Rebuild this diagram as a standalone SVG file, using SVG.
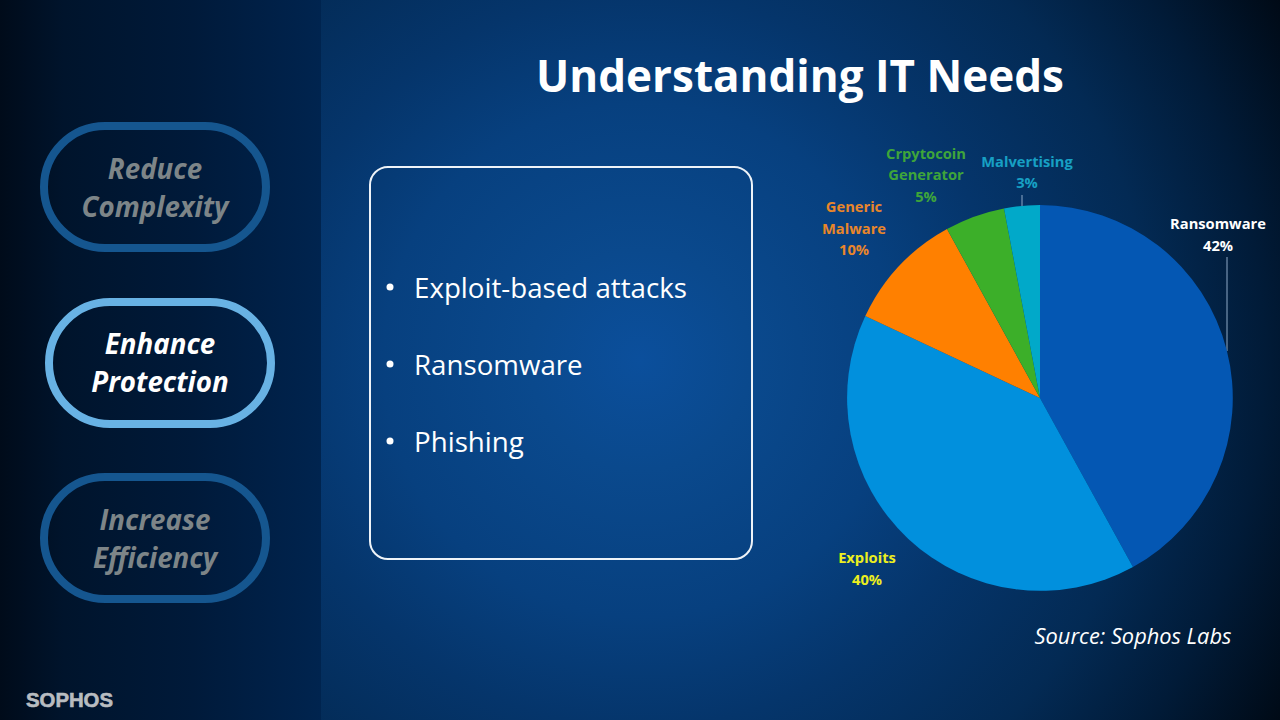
<svg xmlns="http://www.w3.org/2000/svg" width="1280" height="720" viewBox="0 0 1280 720">
<defs>
<radialGradient id="bg" gradientUnits="userSpaceOnUse" cx="640" cy="360" r="734">
<stop offset="0" stop-color="#0b4f9c"/>
<stop offset="0.15" stop-color="#0a498d"/>
<stop offset="0.35" stop-color="#07407f"/>
<stop offset="0.5" stop-color="#05356b"/>
<stop offset="0.7" stop-color="#032a54"/>
<stop offset="0.85" stop-color="#011b38"/>
<stop offset="1" stop-color="#000a16"/>
</radialGradient>
<linearGradient id="panel" x1="0" y1="0" x2="1" y2="0">
<stop offset="0" stop-color="#000b1a"/>
<stop offset="0.2" stop-color="#00142c"/>
<stop offset="0.6" stop-color="#001a3a"/>
<stop offset="1" stop-color="#00244f"/>
</linearGradient>
</defs>
<style>
text{font-family:"Open Sans","Noto Sans","Liberation Sans",sans-serif;text-anchor:middle}
.pill{fill:none;stroke-width:8}
.nav{font-size:27.7px;font-weight:700;font-style:italic}
.off{fill:#7d8588}
.dim{stroke:#15568f}
.bul{font-size:27.7px;fill:#fff;text-anchor:start}
.lab{font-size:14.7px;font-weight:700}
</style>
<rect width="1280" height="720" fill="url(#bg)"/>
<rect width="321" height="720" fill="url(#panel)"/>
<text x="800" y="92" font-size="45.500" font-weight="700" fill="#fff" textLength="528" lengthAdjust="spacingAndGlyphs">Understanding IT Needs</text>
<g id="node-reduce"><rect class="pill dim" x="44" y="126" width="222" height="122" rx="61"/>
<text class="nav off" x="155" y="179">Reduce</text><text class="nav off" x="155" y="217">Complexity</text></g>
<g id="node-enhance"><rect class="pill" stroke="#68b2e4" x="49" y="302" width="222" height="122" rx="61"/>
<text class="nav" fill="#fff" x="160" y="354">Enhance</text><text class="nav" fill="#fff" x="160" y="392">Protection</text></g>
<g id="node-increase"><rect class="pill dim" x="44" y="477" width="222" height="122" rx="61"/>
<text class="nav off" x="155" y="530">Increase</text><text class="nav off" x="155" y="568">Efficiency</text></g>
<g id="node-list"><rect x="370" y="167" width="382" height="392" rx="18" fill="none" stroke="#eef3f8" stroke-width="2"/>
<circle cx="390" cy="287" r="3.500" fill="#fff"/><text class="bul" x="414" y="298">Exploit-based attacks</text>
<circle cx="390" cy="364" r="3.500" fill="#fff"/><text class="bul" x="414" y="375">Ransomware</text>
<circle cx="390" cy="441" r="3.500" fill="#fff"/><text class="bul" x="414" y="452">Phishing</text></g>
<g id="connectors" stroke="#8ea9c6" stroke-width="1" fill="none"><path d="M1227 257V351"/><path d="M1022 195V206"/></g>
<g id="pie">
<path fill="#0457b3" d="M1040 398V205A193 193 0 0 1 1133 567Z"/>
<path fill="#0190dd" d="M1040 398L1133 567A193 193 0 0 1 865.300 316Z"/>
<path fill="#ff8000" d="M1040 398L865.300 316A193 193 0 0 1 947 229Z"/>
<path fill="#3caf29" d="M1040 398L947 229A193 193 0 0 1 1004 208.400Z"/>
<path fill="#01a9c9" d="M1040 398L1004 208.400A193 193 0 0 1 1040 205Z"/>
</g>
<g>
<text class="lab" fill="#fff" x="1218" y="229">Ransomware</text><text class="lab" fill="#fff" x="1218" y="251">42%</text>
<text class="lab" fill="#ecef1e" x="867" y="563">Exploits</text><text class="lab" fill="#ecef1e" x="867" y="585">40%</text>
<text class="lab" fill="#e9862a" x="854" y="212">Generic</text><text class="lab" fill="#e9862a" x="854" y="234">Malware</text><text class="lab" fill="#e9862a" x="854" y="255">10%</text>
<text class="lab" fill="#3fa53a" x="926" y="159">Crpytocoin</text><text class="lab" fill="#3fa53a" x="926" y="180">Generator</text><text class="lab" fill="#3fa53a" x="926" y="202">5%</text>
<text class="lab" fill="#17a0c4" x="1027" y="167">Malvertising</text><text class="lab" fill="#17a0c4" x="1027" y="188">3%</text>
</g>
<text x="1133" y="644" font-size="21.800" font-style="italic" fill="#fff">Source: Sophos Labs</text>
<text x="69.500" y="707" font-size="20" font-weight="700" fill="#b8bcc0" stroke="#b8bcc0" stroke-width="0.6" style="font-family:'Liberation Sans',sans-serif" textLength="87" lengthAdjust="spacingAndGlyphs">SOPHOS</text>
</svg>
